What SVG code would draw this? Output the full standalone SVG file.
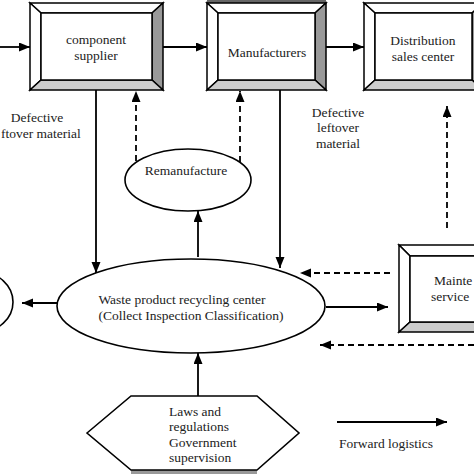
<svg xmlns="http://www.w3.org/2000/svg" width="474" height="474" viewBox="0 0 474 474">
<style>
.t{font-family:"Liberation Serif","Times New Roman",serif;font-size:13.5px;fill:#222}
.m{text-anchor:middle}
.ln{stroke:#000;stroke-width:1.8;fill:none}
.dl{stroke:#000;stroke-width:1.8;fill:none;stroke-dasharray:6 4}
.bw{fill:#fff;stroke:#000;stroke-width:1.5;stroke-linejoin:miter}
.bd{fill:#999;stroke:#000;stroke-width:1.5}
.bl{fill:#ccc;stroke:#000;stroke-width:1.5}
.sh{fill:#fff;stroke:#000;stroke-width:1.6}
</style>
<defs>
<marker id="ah" markerUnits="userSpaceOnUse" markerWidth="12" markerHeight="10" refX="11" refY="4.5" orient="auto">
<path d="M0,0 L11,4.5 L0,9 z" fill="#000"/>
</marker>
</defs>
<rect width="474" height="474" fill="#fff"/>

<g id="component-supplier">
<polygon class="bw" points="30,3 163,3 152,13 41,13"/>
<polygon class="bw" points="30,3 41,13 41,80 30,90"/>
<polygon class="bd" points="163,3 163,90 152,80 152,13"/>
<polygon class="bl" points="30,90 41,80 152,80 163,90"/>
<rect class="bw" x="41" y="13" width="111" height="67"/>
<text class="t m" x="96" y="44">component</text>
<text class="t m" x="96" y="60">supplier</text>
</g>

<g id="manufacturers">
<rect x="207" y="0" width="119" height="3" fill="#666"/>
<polygon class="bw" points="207,3 326,3 315,13 218,13"/>
<polygon class="bw" points="207,3 218,13 218,80 207,90"/>
<polygon class="bd" points="326,3 326,90 315,80 315,13"/>
<polygon class="bl" points="207,90 218,80 315,80 326,90"/>
<rect class="bw" x="218" y="13" width="97" height="67"/>
<text class="t m" x="267" y="57">Manufacturers</text>
</g>

<g id="distribution-sales-center">
<polygon class="bw" points="364,3 484,3 472,13 375,13"/>
<polygon class="bw" points="364,3 375,13 375,80 364,90"/>
<polygon class="bd" points="484,3 484,90 472,80 472,13"/>
<polygon class="bl" points="364,90 375,80 472,80 484,90"/>
<rect class="bw" x="375" y="13" width="97" height="67"/>
<text class="t m" x="423" y="45">Distribution</text>
<text class="t m" x="423" y="61">sales center</text>
</g>

<g id="maintenance-service">
<polygon class="bw" points="399,245 490,245 480,256 410,256"/>
<polygon class="bw" points="399,245 410,256 410,322 399,332"/>
<polygon class="bl" points="399,332 410,322 480,322 490,332"/>
<rect class="bw" x="410" y="256" width="70" height="66"/>
<text class="t" x="434" y="285">Mainte</text>
<text class="t" x="431" y="301">service</text>
</g>

<g id="remanufacture">
<ellipse class="sh" cx="188" cy="180" rx="63" ry="31"/>
<text class="t m" x="186" y="175">Remanufacture</text>
</g>

<g id="waste-recycling-center">
<ellipse class="sh" cx="191" cy="306" rx="134" ry="47"/>
<text class="t m" x="182" y="304">Waste product recycling center</text>
<text class="t m" x="191" y="320">(Collect Inspection Classification)</text>
</g>

<g id="left-node">
<ellipse class="sh" cx="-20" cy="302" rx="33" ry="30"/>
</g>

<g id="laws-regulations">
<polygon points="131,470 257,470 257,474 131,474" fill="#999"/>
<polygon class="sh" points="87,433 131,396 257,396 299,433 257,470 131,470"/>
<text class="t" x="169" y="416">Laws and</text>
<text class="t" x="169" y="431">regulations</text>
<text class="t" x="169" y="447">Government</text>
<text class="t" x="169" y="462">supervision</text>
</g>

<g id="labels">
<text class="t m" x="37" y="122">Defective</text>
<text class="t" x="1" y="138">ftover material</text>
<text class="t m" x="338" y="117">Defective</text>
<text class="t m" x="338" y="132">leftover</text>
<text class="t m" x="338" y="148">material</text>
<text class="t" x="339" y="448">Forward logistics</text>
</g>

<g id="connectors">
<line class="ln" x1="0" y1="47" x2="30" y2="47" marker-end="url(#ah)"/>
<line class="ln" x1="163" y1="47" x2="207" y2="47" marker-end="url(#ah)"/>
<line class="ln" x1="326" y1="47" x2="364" y2="47" marker-end="url(#ah)"/>
<line class="ln" x1="96" y1="90" x2="96" y2="273" marker-end="url(#ah)"/>
<line class="dl" x1="136" y1="161" x2="136" y2="91" marker-end="url(#ah)"/>
<line class="dl" x1="240" y1="162" x2="240" y2="91" marker-end="url(#ah)"/>
<line class="ln" x1="280" y1="90" x2="280" y2="268" marker-end="url(#ah)"/>
<line class="ln" x1="198" y1="257" x2="198" y2="211" marker-end="url(#ah)"/>
<line class="ln" x1="57" y1="303" x2="22" y2="303" marker-end="url(#ah)"/>
<line class="ln" x1="326" y1="307" x2="388" y2="307" marker-end="url(#ah)"/>
<line class="dl" x1="390" y1="273" x2="300" y2="273" marker-end="url(#ah)"/>
<line class="dl" x1="474" y1="345" x2="320" y2="345" marker-end="url(#ah)"/>
<line class="dl" x1="447" y1="228" x2="447" y2="106" marker-end="url(#ah)"/>
<line class="ln" x1="198" y1="396" x2="198" y2="353" marker-end="url(#ah)"/>
<line class="ln" x1="337" y1="422" x2="447" y2="422" marker-end="url(#ah)"/>
</g>
</svg>
